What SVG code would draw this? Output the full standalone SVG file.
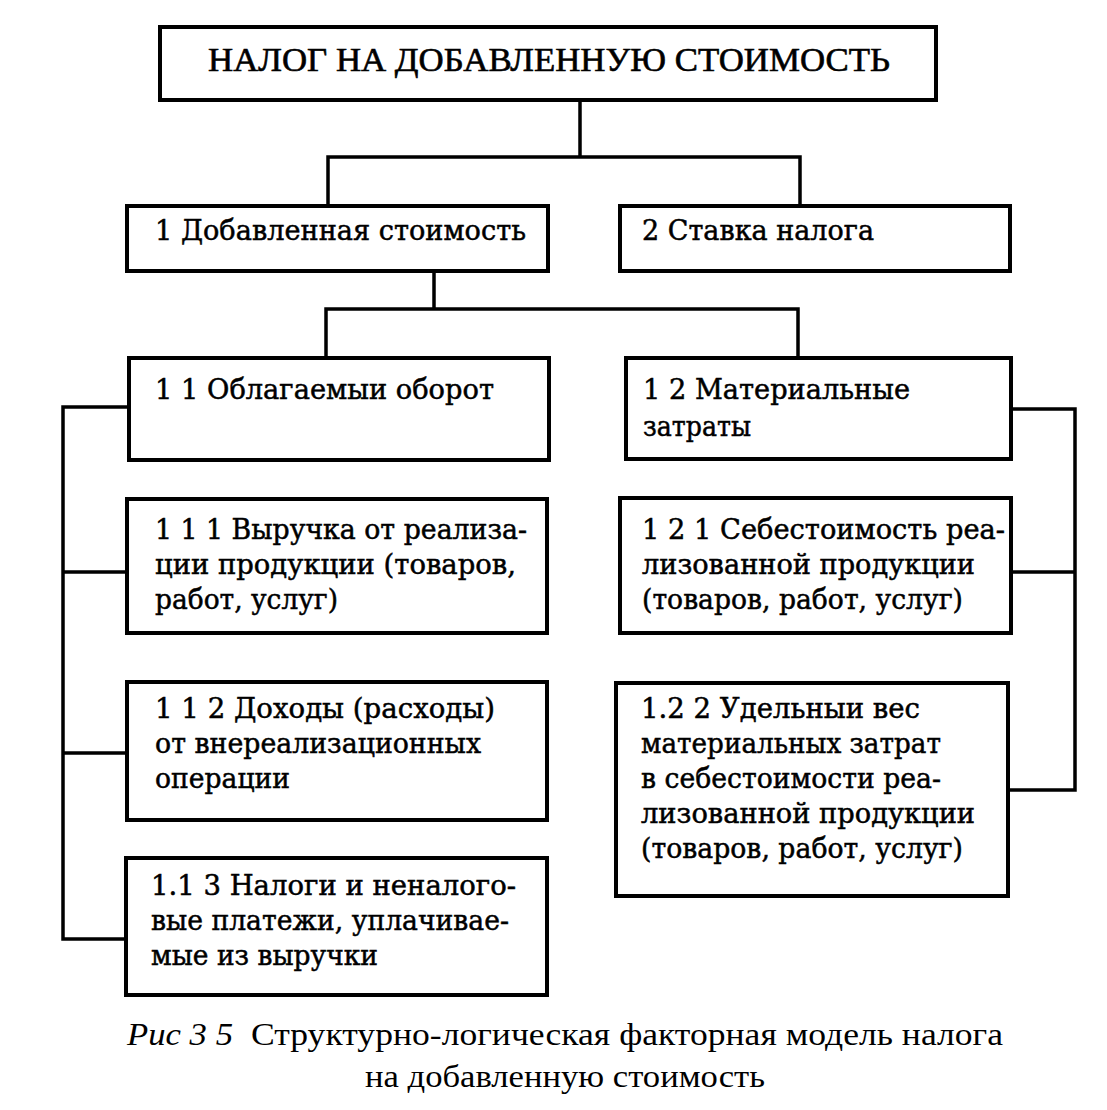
<svg xmlns="http://www.w3.org/2000/svg" width="1107" height="1110" viewBox="0 0 1107 1110">
<style>
.box{fill:#fff;stroke:#000;stroke-width:4}
.t{font-family:"DejaVu Serif","Liberation Serif",serif;font-size:27px;fill:#000;stroke:#000;stroke-width:0.5}
.title{font-family:"Liberation Serif",serif;font-size:33px;fill:#000;stroke:#000;stroke-width:0.6}
.cap{font-family:"Liberation Serif",serif;font-size:32px;fill:#000}
.conn{fill:none;stroke:#000;stroke-width:3.5;stroke-linecap:square;stroke-linejoin:miter}
</style>
<rect width="1107" height="1110" fill="#fff"/>
<g id="connectors">
<path class="conn" d="M580,100 V157 M328,157 H800 M328,157 V206 M800,157 V206"/>
<path class="conn" d="M434,271 V309 M326,309 H798 M326,309 V358 M798,309 V358"/>
<path class="conn" d="M129,407 H63 V939 H126 M63,572 H127 M63,753 H127"/>
<path class="conn" d="M1011,409 H1075 V790 H1008 M1075,572 H1011"/>
</g>
<g id="n0">
<rect class="box" x="160" y="27" width="776" height="73"/>
<text class="title" x="208" y="71" textLength="682" lengthAdjust="spacingAndGlyphs">НАЛОГ  НА ДОБАВЛЕННУЮ  СТОИМОСТЬ</text>
</g>
<g id="n1">
<rect class="box" x="127" y="206" width="421" height="65"/>
<text class="t" x="155" y="240" textLength="371" lengthAdjust="spacingAndGlyphs">1  Добавленная стоимость</text>
</g>
<g id="n2">
<rect class="box" x="620" y="206" width="390" height="65"/>
<text class="t" x="642" y="240" textLength="232" lengthAdjust="spacingAndGlyphs">2  Ставка налога</text>
</g>
<g id="n11">
<rect class="box" x="129" y="358" width="420" height="102"/>
<text class="t" x="155" y="399" textLength="339" lengthAdjust="spacingAndGlyphs">1 1  Облагаемыи оборот</text>
</g>
<g id="n12">
<rect class="box" x="626" y="358" width="385" height="101"/>
<text class="t" x="643" y="399" textLength="267" lengthAdjust="spacingAndGlyphs">1 2  Материальные</text>
<text class="t" x="643" y="436" textLength="108" lengthAdjust="spacingAndGlyphs">затраты</text>
</g>
<g id="n111">
<rect class="box" x="127" y="499" width="420" height="134"/>
<text class="t" x="155" y="539" textLength="372" lengthAdjust="spacingAndGlyphs">1 1 1  Выручка от реализа-</text>
<text class="t" x="155" y="574" textLength="361" lengthAdjust="spacingAndGlyphs">ции продукции (товаров,</text>
<text class="t" x="155" y="609" textLength="183" lengthAdjust="spacingAndGlyphs">работ, услуг)</text>
</g>
<g id="n121">
<rect class="box" x="620" y="498" width="391" height="135"/>
<text class="t" x="642" y="539" textLength="363" lengthAdjust="spacingAndGlyphs">1 2 1  Себестоимость реа-</text>
<text class="t" x="642" y="574" textLength="333" lengthAdjust="spacingAndGlyphs">лизованной продукции</text>
<text class="t" x="642" y="609" textLength="321" lengthAdjust="spacingAndGlyphs">(товаров, работ, услуг)</text>
</g>
<g id="n112">
<rect class="box" x="127" y="682" width="420" height="138"/>
<text class="t" x="155" y="718" textLength="340" lengthAdjust="spacingAndGlyphs">1 1 2  Доходы (расходы)</text>
<text class="t" x="155" y="753" textLength="326" lengthAdjust="spacingAndGlyphs">от внереализационных</text>
<text class="t" x="155" y="788" textLength="135" lengthAdjust="spacingAndGlyphs">операции</text>
</g>
<g id="n122">
<rect class="box" x="616" y="683" width="392" height="213"/>
<text class="t" x="641" y="718" textLength="279" lengthAdjust="spacingAndGlyphs">1.2 2  Удельныи вес</text>
<text class="t" x="641" y="753" textLength="300" lengthAdjust="spacingAndGlyphs">материальных затрат</text>
<text class="t" x="641" y="788" textLength="300" lengthAdjust="spacingAndGlyphs">в себестоимости реа-</text>
<text class="t" x="641" y="823" textLength="334" lengthAdjust="spacingAndGlyphs">лизованной продукции</text>
<text class="t" x="641" y="858" textLength="322" lengthAdjust="spacingAndGlyphs">(товаров, работ, услуг)</text>
</g>
<g id="n113">
<rect class="box" x="126" y="858" width="421" height="137"/>
<text class="t" x="151" y="895" textLength="365" lengthAdjust="spacingAndGlyphs">1.1 3  Налоги и неналого-</text>
<text class="t" x="151" y="930" textLength="358" lengthAdjust="spacingAndGlyphs">вые платежи, уплачивае-</text>
<text class="t" x="151" y="965" textLength="227" lengthAdjust="spacingAndGlyphs">мые из выручки</text>
</g>
<g id="caption">
<text class="cap" x="127" y="1045" font-style="italic" textLength="106" lengthAdjust="spacingAndGlyphs">Рис  3 5</text>
<text class="cap" x="251" y="1045" textLength="752" lengthAdjust="spacingAndGlyphs">Структурно-логическая факторная модель налога</text>
<text class="cap" x="365" y="1087" textLength="400" lengthAdjust="spacingAndGlyphs">на добавленную стоимость</text>
</g>
</svg>
